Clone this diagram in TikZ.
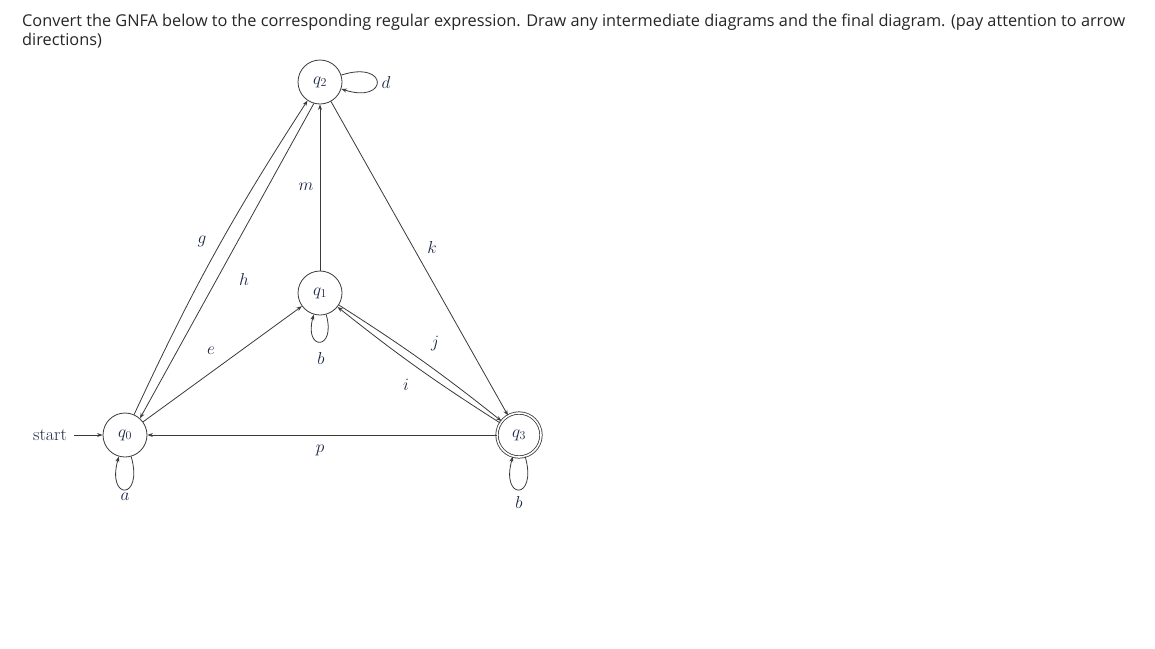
\documentclass[tikz,border=0pt]{standalone}
\usepackage{fontspec}
\newfontfamily\headfont{Open Sans}
\usepackage{xcolor}
\usepackage{tikz}
\usetikzlibrary{arrows.meta,positioning}
\definecolor{bg}{HTML}{FFFFFF}
\definecolor{ink}{HTML}{1C2746}
\definecolor{wire}{HTML}{3A3A3A}
\definecolor{head}{HTML}{262626}
\tikzset{
  stnode/.style={circle, draw=wire, line width=0.8pt, minimum size=44pt, inner sep=0pt, text=ink, font=\fontsize{18}{20}\selectfont},
  acc/.style={stnode, double=bg, double distance=1.6pt},
  conn/.style={draw=wire, line width=0.8pt, -{Stealth[length=5.5pt,width=4pt]}},
  lab/.style={text=ink, font=\fontsize{18}{20}\selectfont, inner sep=0pt},
  headtxt/.style={text=head, font=\headfont\fontsize{16.3}{19}\selectfont, anchor=base west, inner sep=0pt},
}

\begin{document}
\begin{tikzpicture}[x=1pt,y=1pt]
\fill[bg] (0,0) rectangle (1155,-648);
\node[headtxt] (line1) at (22,-26) {Convert the GNFA below to the corresponding regular expression. Draw any intermediate diagrams and the final diagram. (pay attention to arrow};
\node[headtxt] (line2) at (22,-45) {directions)};
\node[stnode] (q0) at (125,-435) {$q_0$};
\node[stnode] (q1) at (320,-293) {$q_1$};
\node[stnode] (q2) at (320,-82) {$q_2$};
\node[acc] (q3) at (519,-435) {$q_3$};
\node[lab] (start) at (50,-435) {start};
\draw[conn, shorten <=7pt] (start) -- (q0);
\draw[conn] (q0) -- (q1);
\draw[conn] (q1) -- (q2);
\draw[conn] (q2) -- (q3);
\draw[conn] (q3) -- (q0);
\draw[conn] (q0.66) to[bend left=4] (q2.236);
\draw[conn] (q2.254) -- (q0.48);
\draw[conn] (q1) to[bend left=3] (q3);
\draw[conn] (q3) to[bend left=3] (q1);
\draw[conn] (q0) to[out=-74, in=-106, min distance=46pt] (q0);
\draw[conn] (q1) to[out=-74, in=-106, min distance=38pt] (q1);
\draw[conn] (q3) to[out=-74, in=-106, min distance=46pt] (q3);
\draw[conn] (q2) to[out=18, in=-18, min distance=50pt] (q2);
\node[lab] (lg) at (202,-241) {$g$};
\node[lab] (lh) at (244,-279) {$h$};
\node[lab] (lm) at (306,-187) {$m$};
\node[lab] (lk) at (432,-247) {$k$};
\node[lab] (le) at (211,-351) {$e$};
\node[lab] (lj) at (435,-344) {$j$};
\node[lab] (li) at (406,-385) {$i$};
\node[lab] (lp) at (320,-450) {$p$};
\node[lab] (la) at (125,-497) {$a$};
\node[lab] (lb1) at (321,-358) {$b$};
\node[lab] (lb3) at (519,-502) {$b$};
\node[lab] (ld) at (386,-82) {$d$};
\end{tikzpicture}
\end{document}
